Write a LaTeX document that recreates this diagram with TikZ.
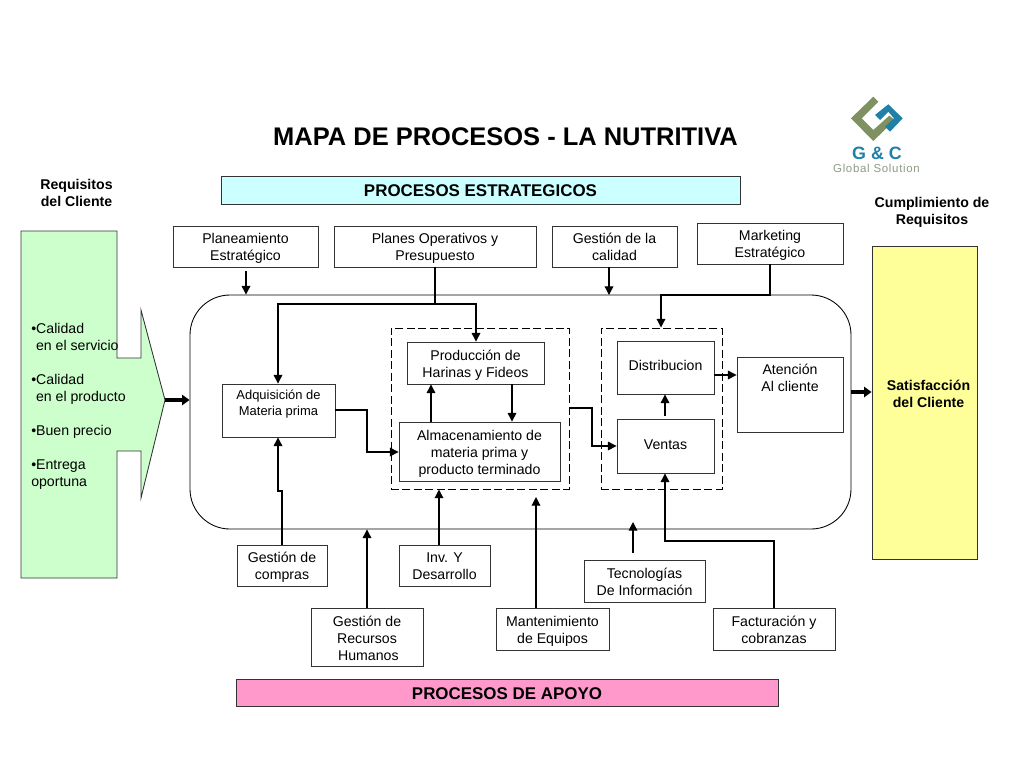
\documentclass[tikz,border=0pt]{standalone}
\usepackage{fontspec}
\setmainfont{Liberation Sans}
\usetikzlibrary{arrows.meta}
\definecolor{linec}{HTML}{333333}
\definecolor{cyanfill}{HTML}{CCFFFF}
\definecolor{pinkfill}{HTML}{FF99CC}
\definecolor{greenfill}{HTML}{CCFFCC}
\definecolor{yellowfill}{HTML}{FFFF99}
\definecolor{logogreen}{HTML}{7F9160}
\definecolor{logoblue}{HTML}{1F80A8}
\definecolor{logogray}{HTML}{8E9C84}
\tikzset{
  boxst/.style={draw=linec,line width=0.65pt,inner sep=0pt,font=\fontsize{10.6}{12.75}\selectfont,text=black},
  wire/.style={draw=black,line width=0.9pt},
  arrowline/.style={wire,-{Triangle[length=6.5pt,width=6.5pt]}},
  bigarrow/.style={draw=black,line width=2.3pt,-{Triangle[length=5.5pt,width=7.5pt]}},
  banner/.style={font=\fontsize{12.7}{14}\selectfont\bfseries},
  caption/.style={inner sep=0pt,align=center,font=\fontsize{10.6}{12.75}\selectfont\bfseries},
  dashbox/.style={draw=black,line width=0.75pt,dash pattern=on 6pt off 2.6pt},
}
% name, x0, y0, x1, y1, extra style, text raise, text (pixel coordinates)
\newcommand{\pxbox}[8]{\node[boxst,#6,minimum width={(#4-#2)*0.75pt},minimum height={(#5-#3)*0.75pt}] (#1) at ({(#2+#4)/2},{(#3+#5)/2}) {\smash{\raisebox{#7}{\begin{tabular}{@{}c@{}}#8\end{tabular}}}};}
\begin{document}
\begin{tikzpicture}[x=0.75pt,y=-0.75pt]
\useasboundingbox[fill=white] (0,0) rectangle (1024,768);
% title
\node[inner sep=0pt,font=\fontsize{19.1}{23}\selectfont\bfseries] (title) at (505.5,137) {MAPA DE PROCESOS - LA NUTRITIVA};
% logo
\fill[logogreen] (873.3,96.7) -- (851,118.3) -- (873.3,141) -- (895,120) -- (889.3,115.7) -- (873.3,130) -- (861.7,118.3) -- (878.3,101.7) -- cycle;
\fill[logoblue] (875,115) -- (888.3,104.3) -- (902.7,118.3) -- (890,131.7) -- (885,126.7) -- (894,118.3) -- (888.3,111.7) -- (880,120) -- cycle;
\node[inner sep=0pt,text=logoblue,font=\fontsize{13.4}{15}\selectfont\bfseries] (logoname) at (877,153) {G \& C};
\node[inner sep=0pt,text=logogray,font=\fontsize{8.6}{10}\selectfont\addfontfeatures{LetterSpace=6}] (logosub) at (876.5,168) {Global Solution};
% banners
\pxbox{estrat}{221}{176}{740}{204}{banner,fill=cyanfill}{-5.1pt}{PROCESOS ESTRATEGICOS}
\pxbox{apoyo}{236}{679}{778}{706}{banner,fill=pinkfill}{-5.1pt}{PROCESOS DE APOYO}
% side captions
\node[caption] (reqcap) at (76.5,192.5) {Requisitos\\del Cliente};
\node[caption] (cumcap) at (932,212) {Cumplimiento de\\Requisitos};
% green input arrow
\draw[draw=linec,line width=0.65pt,fill=greenfill] (21,231) -- (117,231) -- (117,358) -- (141,358) -- (141,310) -- (165,400) -- (141,498) -- (141,451) -- (117,451) -- (117,578) -- (21,578) -- cycle;
\coordinate (greentip) at (165,400);
\node[inner sep=0pt,align=left,anchor=north west,font=\fontsize{10.6}{12.75}\selectfont] (reqlist) at (31,322.5) {•Calidad\\\hspace*{3.6pt}en el servicio\\[12.75pt]•Calidad\\\hspace*{3.6pt}en el producto\\[12.75pt]•Buen precio\\[12.75pt]•Entrega\\oportuna};
% yellow output
\pxbox{satis}{872}{246}{977}{559}{fill=yellowfill,font=\fontsize{10.6}{12.75}\selectfont\bfseries}{2.1pt}{\hspace*{6pt}Satisfacción\\\hspace*{6pt}del Cliente}
% central rounded box
\pxbox{core}{190}{295}{851}{529}{rounded corners=30pt,draw=black}{0pt}{}
% dashed groups
\pxbox{grpa}{391}{328}{569}{489}{dashbox}{0pt}{}
\pxbox{grpb}{601}{328}{722}{489}{dashbox}{0pt}{}
% strategic
\pxbox{plan}{173}{226}{318}{267}{}{-4pt}{Planeamiento\\Estratégico}
\pxbox{oper}{334}{226}{536}{267}{}{-4pt}{Planes Operativos y\\Presupuesto}
\pxbox{cali}{552}{226}{677}{267}{}{-4.6pt}{Gestión de la\\calidad}
\pxbox{mark}{697}{223}{843}{264}{}{-4.6pt}{Marketing\\Estratégico}
% core processes
\pxbox{adqu}{222}{384}{335}{437}{font=\fontsize{9.7}{12}\selectfont}{2.2pt}{Adquisición de\\Materia prima}
\pxbox{prod}{407}{342}{544}{384}{}{-4.8pt}{Producción de\\Harinas y Fideos}
\pxbox{alma}{399}{422}{560}{481}{}{-4.8pt}{Almacenamiento de\\materia prima y\\producto terminado}
\pxbox{dist}{617}{341}{714}{394}{}{-2.4pt}{Distribucion}
\pxbox{vent}{617}{419}{714}{473}{}{-3pt}{Ventas}
\pxbox{aten}{737}{357}{843}{432}{}{8.6pt}{Atención\\Al cliente}
% support
\pxbox{comp}{237}{545}{327}{586}{}{-4.2pt}{Gestión de\\compras}
\pxbox{inve}{399}{545}{490}{586}{}{-4.2pt}{Inv. Y\\Desarrollo}
\pxbox{rrhh}{311}{608}{423}{666}{}{-4.8pt}{Gestión de\\Recursos\\\hspace*{2pt}Humanos}
\pxbox{mant}{496}{608}{609}{650}{}{-4.8pt}{Mantenimiento\\de Equipos}
\pxbox{tecn}{584}{560}{705}{602}{}{-4.8pt}{Tecnologías\\De Información}
\pxbox{fact}{713}{608}{835}{650}{}{-4.8pt}{Facturación y\\cobranzas}
% guides for free ends and off-centre connector positions
\coordinate (planfree) at (246,271);
\coordinate (gx278) at (278,304);
\coordinate (gx435) at (435,304);
\coordinate (gx476) at (476,304);
\coordinate (gx609) at (609,295);
\coordinate (gx770) at (770,295);
\coordinate (gx661) at (661,295);
\coordinate (gy410) at (367,410);
\coordinate (gy452) at (367,452);
\coordinate (gx431) at (431,400);
\coordinate (gx512) at (512,400);
\coordinate (gy408) at (592,408);
\coordinate (gy446) at (592,446);
\coordinate (ventfree) at (665,416);
\coordinate (gy375) at (725,375);
\coordinate (gy392) at (860,392);
\coordinate (gy491a) at (282,491);
\coordinate (gy491b) at (278,491);
\coordinate (gx439) at (439,500);
\coordinate (gx367) at (367,600);
\coordinate (manttip) at (536,497);
\coordinate (tecnfree) at (633,553);
\coordinate (tecntip) at (633,522);
\coordinate (gy541a) at (774,541);
\coordinate (gy541b) at (665,541);
% connectors
\draw[arrowline] (planfree) -- (planfree |- core.north);
\draw[wire] (oper.south -| gx435) -- (gx435);
\draw[arrowline] (gx435) -- (gx278) -- (adqu.north -| gx278);
\draw[arrowline] (gx435) -- (gx476) -- (prod.north -| gx476);
\draw[arrowline] (cali.south -| gx609) -- (gx609);
\draw[arrowline] (mark.south -| gx770) -- (gx770) -- (gx661) -- (grpb.north -| gx661);
\draw[arrowline] (adqu.east |- gy410) -- (gy410) -- (gy452) -- (alma.west |- gy452);
\draw[arrowline] (alma.north -| gx431) -- (prod.south -| gx431);
\draw[arrowline] (prod.south -| gx512) -- (alma.north -| gx512);
\draw[arrowline] (grpa.east |- gy408) -- (gy408) -- (gy446) -- (vent.west |- gy446);
\draw[arrowline] (ventfree) -- (dist.south -| ventfree);
\draw[arrowline] (dist.east |- gy375) -- (aten.west |- gy375);
\draw[bigarrow] (greentip) -- (core.west |- greentip);
\draw[bigarrow] (core.east |- gy392) -- (satis.west |- gy392);
\draw[arrowline] (comp.north -| gy491a) -- (gy491a) -- (gy491b) -- (adqu.south -| gy491b);
\draw[arrowline] (inve.north -| gx439) -- (grpa.south -| gx439);
\draw[arrowline] (rrhh.north -| gx367) -- (core.south -| gx367);
\draw[arrowline] (mant.north -| manttip) -- (manttip);
\draw[arrowline] (tecnfree) -- (tecntip);
\draw[arrowline] (fact.north -| gy541a) -- (gy541a) -- (gy541b) -- (vent.south -| gy541b);
\end{tikzpicture}
\end{document}
